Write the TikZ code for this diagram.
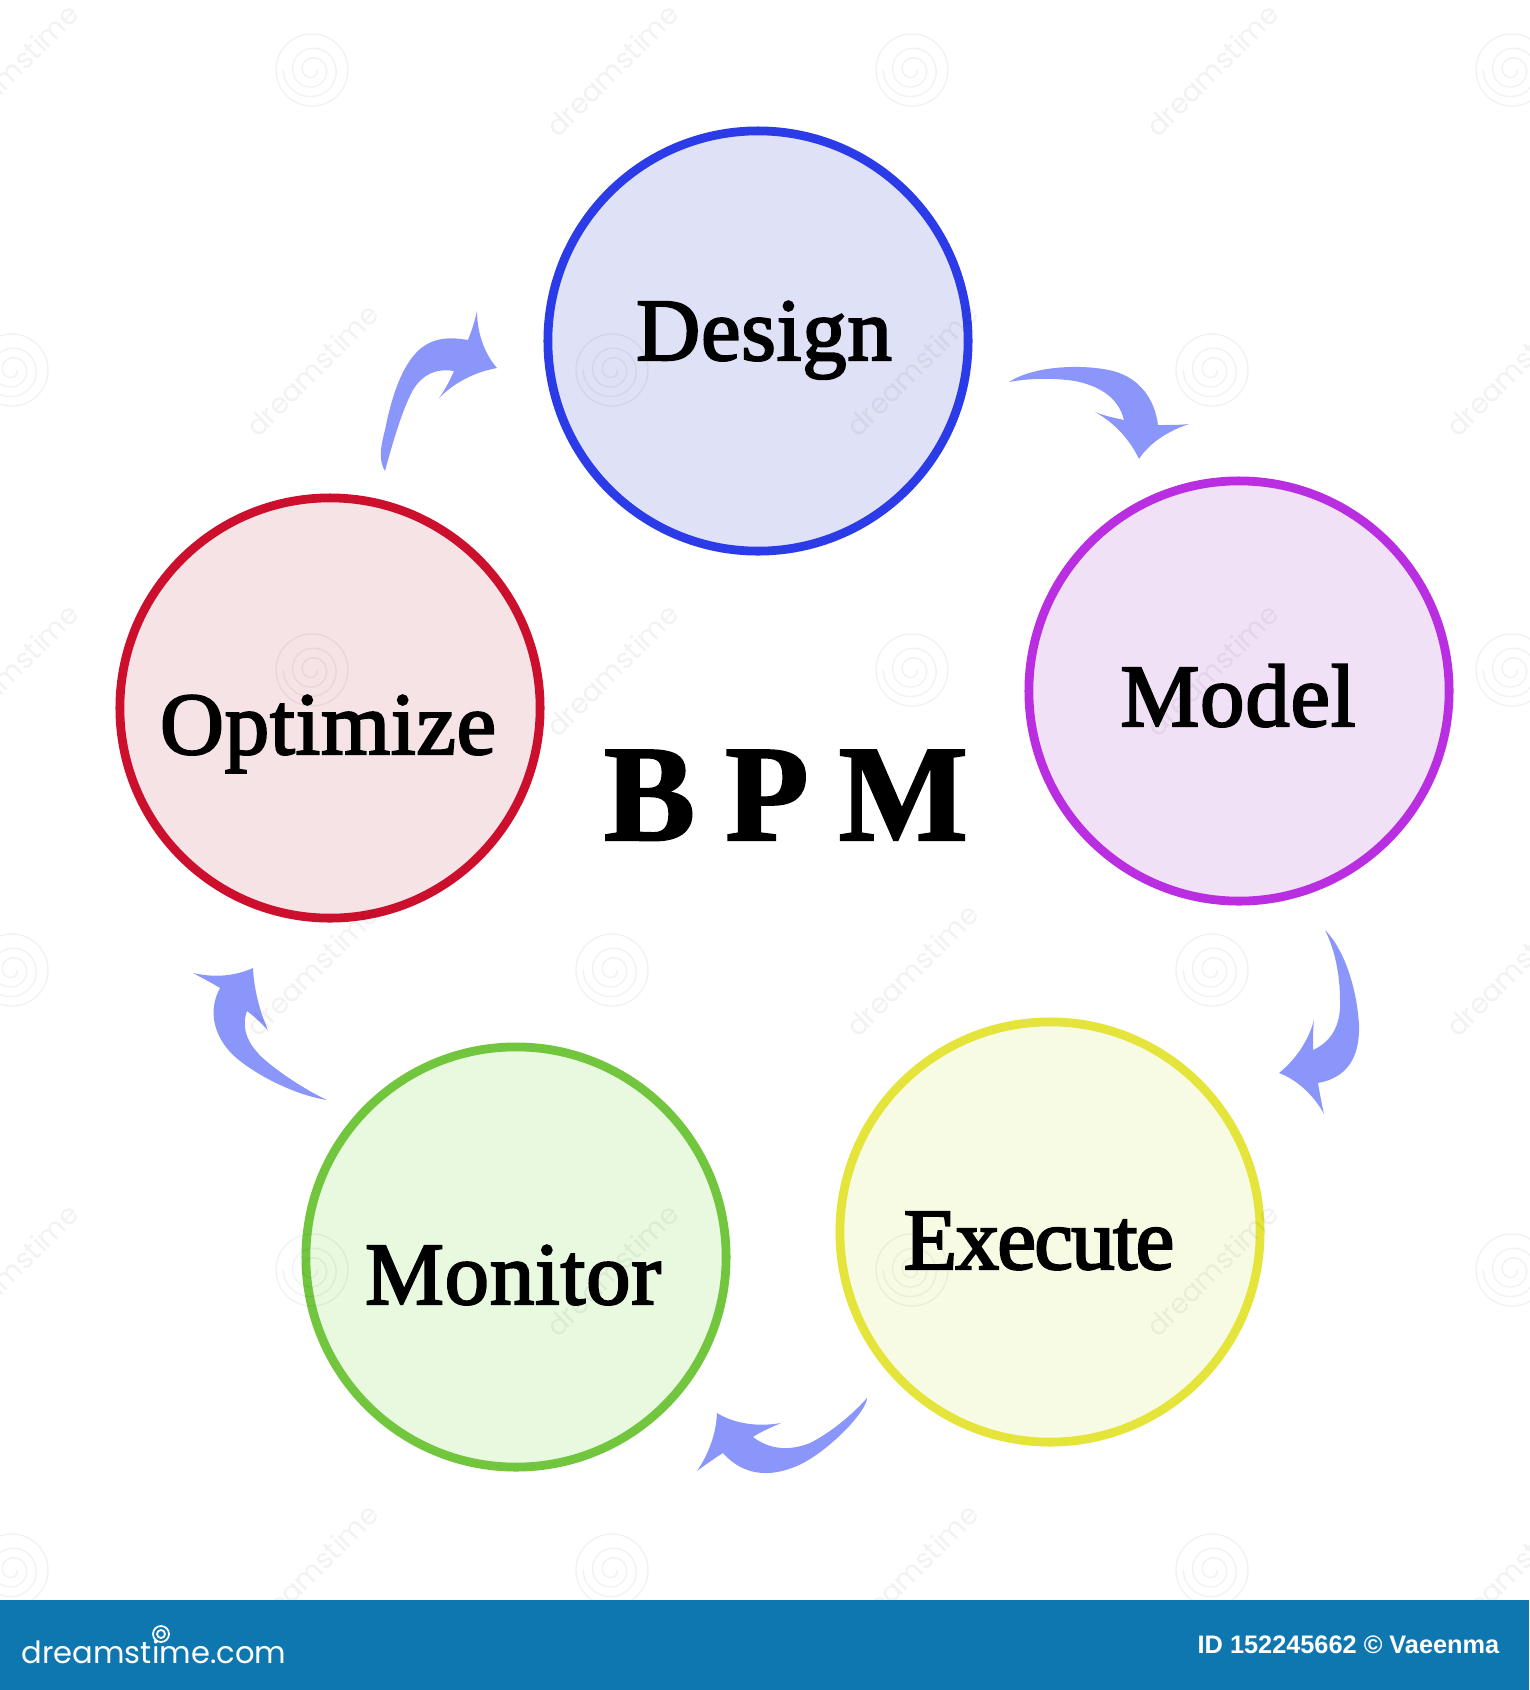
\documentclass[tikz,border=0pt]{standalone}
\usepackage{fontspec}
\setmainfont{Liberation Serif}
\newfontfamily\stagefont[FakeBold=2.5,LetterSpace=1]{Liberation Serif}
\newfontfamily\tightfont[FakeBold=2.5,LetterSpace=-2]{Liberation Serif}
\newfontfamily\titlefont[WordSpace=0.87,FakeBold=1.5]{Liberation Serif Bold}
\newfontfamily\logofont{Poppins}
\newfontfamily\creditfont{Liberation Sans Bold}
\definecolor{flowblue}{HTML}{8B96FA}
\definecolor{bannerblue}{HTML}{0F77AF}
\definecolor{designline}{HTML}{2B3BE8}
\definecolor{designfill}{HTML}{DFE2F6}
\definecolor{modelline}{HTML}{B92EE0}
\definecolor{modelfill}{HTML}{F1E1F6}
\definecolor{executeline}{HTML}{E4E43A}
\definecolor{executefill}{HTML}{F8FBE3}
\definecolor{monitorline}{HTML}{71C63E}
\definecolor{monitorfill}{HTML}{E8F9E0}
\definecolor{optimizeline}{HTML}{CC0F2D}
\definecolor{optimizefill}{HTML}{F5E3E6}
\tikzset{
	stagecircle/.style={circle, draw=#1line, fill=#1fill, line width=2.5pt, minimum size=4.2cm, inner sep=0pt},
	stagetext/.style={anchor=base, inner sep=0pt, font=\stagefont\fontsize{25.2}{30}\selectfont},
	flowarrow/.style={fill=flowblue, draw=none},
	swirlmark/.style={draw=black, draw opacity=0.05, line width=0.4pt},
	wordmark/.style={text=black, text opacity=0.05, rotate=45, font=\logofont\fontsize{8}{8}\selectfont},
}
\def\wmarks{
	\foreach \rowy/\shiftx in {70/0, 370/300, 670/0, 970/300, 1270/0, 1570/300}{
		\foreach \colx in {12, 612, 1212}{
			\pgfmathsetmacro{\swirlx}{\colx+300-\shiftx}
			\pgfmathsetmacro{\wordx}{\colx+\shiftx}
			\draw[swirlmark] (\swirlx, \rowy) circle (36);
			\draw[swirlmark] plot[domain=0:900, samples=50, smooth, variable=\t] ({\swirlx+(5+\t/37.5)*cos(\t)}, {\rowy+(5+\t/37.5)*sin(\t)});
			\node[wordmark] (word-\colx-\rowy) at (\wordx, \rowy) {dreamstime};
		}
	}
}

\begin{document}
\begin{tikzpicture}[x=0.01cm, y=-0.01cm]
	\useasboundingbox (0, 0) rectangle (1529, 1690);

	% stages
	\node[stagecircle=design] (design) at (758, 341) {};
	\node[stagecircle=model] (model) at (1239, 691) {};
	\node[stagecircle=execute] (execute) at (1050, 1232) {};
	\node[stagecircle=monitor] (monitor) at (516, 1257) {};
	\node[stagecircle=optimize] (optimize) at (330, 708) {};

	\node[stagetext] (designlabel) at (764, 360) {Design};
	\node[stagetext] (modellabel) at (1238, 726) {Model};
	\node[stagetext, font=\tightfont\fontsize{24.8}{30}\selectfont] (executelabel) at (1039, 1269) {Execute};
	\node[stagetext] (monitorlabel) at (513, 1304) {Monitor};
	\node[stagetext] (optimizelabel) at (328, 754) {Optimize};

	\node[anchor=base, inner sep=0pt, font=\titlefont\fontsize{39}{44}\selectfont] (bpm) at (786, 840) {B P M};

	% arrows
	\fill[flowarrow] (1009, 382) .. controls (1035, 365) and (1085, 364) .. (1113, 371) .. controls (1140, 378) and (1155, 400) .. (1158, 425) .. controls (1170, 425) and (1180, 425) .. (1189, 424) .. controls (1165, 432) and (1148, 445) .. (1139, 459) .. controls (1130, 440) and (1115, 423) .. (1095, 412) .. controls (1105, 416) and (1115, 418) .. (1124, 420) .. controls (1118, 395) and (1095, 385) .. (1075, 381) .. controls (1055, 378) and (1030, 378) .. (1009, 382) -- cycle;

	\fill[flowarrow] (1325, 930) .. controls (1345, 950) and (1357, 990) .. (1359, 1025) .. controls (1360, 1060) and (1345, 1078) .. (1318, 1083) .. controls (1320, 1095) and (1322, 1105) .. (1324, 1114) .. controls (1315, 1097) and (1298, 1080) .. (1279, 1073) .. controls (1295, 1060) and (1308, 1042) .. (1314, 1020) .. controls (1313, 1030) and (1313, 1040) .. (1313, 1050) .. controls (1335, 1040) and (1341, 1020) .. (1340, 1000) .. controls (1340, 975) and (1335, 950) .. (1325, 930) -- cycle;

	\fill[flowarrow] (867, 1398) .. controls (867, 1410) and (835, 1445) .. (805, 1462) .. controls (775, 1478) and (745, 1478) .. (723, 1453) .. controls (715, 1458) and (705, 1465) .. (697, 1471) .. controls (708, 1455) and (716, 1435) .. (717, 1413) .. controls (735, 1424) and (758, 1427) .. (781, 1423) .. controls (772, 1427) and (762, 1431) .. (753, 1437) .. controls (770, 1450) and (790, 1451) .. (810, 1443) .. controls (830, 1433) and (852, 1415) .. (867, 1398) -- cycle;

	\fill[flowarrow] (327, 1100) .. controls (295, 1095) and (255, 1075) .. (233, 1055) .. controls (213, 1035) and (208, 1010) .. (220, 988) .. controls (212, 983) and (202, 978) .. (193, 973) .. controls (215, 978) and (235, 976) .. (253, 968) .. controls (254, 990) and (260, 1012) .. (268, 1030) .. controls (262, 1024) and (255, 1017) .. (247, 1011) .. controls (240, 1030) and (250, 1047) .. (265, 1060) .. controls (285, 1077) and (310, 1092) .. (327, 1100) -- cycle;

	\fill[flowarrow] (385, 471) .. controls (378, 460) and (381, 445) .. (385, 430) .. controls (392, 395) and (402, 365) .. (420, 349) .. controls (435, 337) and (450, 337) .. (468, 340) .. controls (472, 330) and (475, 320) .. (477, 311) .. controls (477, 330) and (483, 352) .. (497, 368) .. controls (475, 372) and (455, 382) .. (439, 398) .. controls (445, 390) and (450, 380) .. (454, 371) .. controls (435, 368) and (422, 375) .. (413, 390) .. controls (402, 410) and (392, 445) .. (385, 471) -- cycle;

	% watermark
	\wmarks

	% banner
	\fill[bannerblue] (0, 1600) rectangle (1529, 1690);
	\node[anchor=base west, inner sep=0pt, text=white, font=\logofont\fontsize{8.7}{10}\selectfont] (logo) at (21, 1663) {dreamstime.com};
	\draw[white, line width=0.5pt] (161, 1634) circle (8);
	\draw[white, line width=0.5pt] (161, 1634) circle (4);
	\node[anchor=base east, inner sep=0pt, text=white, font=\creditfont\fontsize{7.2}{8}\selectfont] (credit) at (1500, 1653) {ID 152245662 © Vaeenma};
\end{tikzpicture}
\end{document}
